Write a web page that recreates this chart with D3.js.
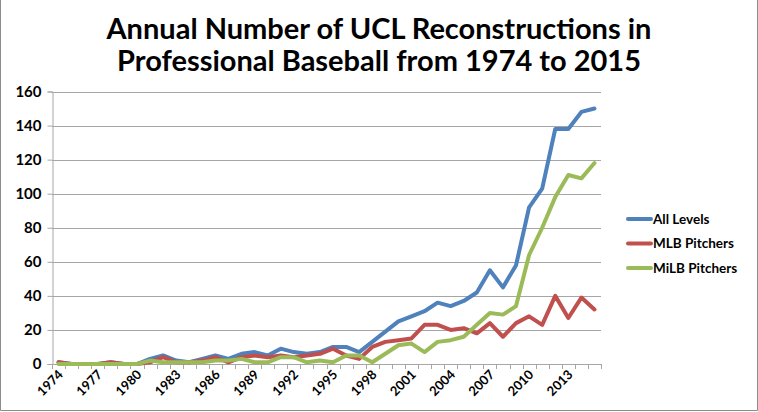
<!DOCTYPE html>
<html>
<head>
<meta charset="utf-8">
<script src="https://cdn.jsdelivr.net/npm/d3@7"></script>
<style>
  html, body { margin: 0; padding: 0; background: #fff; }
  svg { display: block; }
  text { font-family: Lato, "Open Sans", sans-serif; font-weight: bold; fill: #000; }
</style>
</head>
<body>
<svg id="chart" width="758" height="412"></svg>
<script>
const years = d3.range(1974, 2016);
const allLevels = [1,0,0,0,1,0,0,3,5,2,1,3,5,3,6,7,5,9,7,6,7,10,10,7,13,19,25,28,31,36,34,37,42,55,45,58,92,103,138,138,148,150];
const mlbPitchers = [1,0,0,0,1,0,0,1,4,1,1,2,4,1,4,5,4,5,4,5,6,9,5,3,10,13,14,15,23,23,20,21,18,24,16,24,28,23,40,27,39,32];
const milbPitchers = [0,0,0,0,0,0,0,2,1,1,1,1,2,2,3,1,1,4,4,1,2,1,5,5,1,6,11,12,7,13,14,16,23,30,29,34,64,80,98,111,109,118];
const seriesNames = ["All Levels", "MLB Pitchers", "MiLB Pitchers"];
const seriesColors = ["#4F81BD", "#C0504D", "#9BBB59"];
const yTicks = [0, 20, 40, 60, 80, 100, 120, 140, 160];
const xLabelYears = years.filter((yr, i) => i % 3 === 0);
const titleLines = ["Annual Number of UCL Reconstructions in", "Professional Baseball from 1974 to 2015"];

(function () {
  const svg = d3.select("#chart");
  const W = 758, H = 412;
  const pLeft = 52, pRight = 601, pTop = 91.5, pBottom = 364;

  // frame
  svg.append("path")
    .attr("d", `M0.5,-2 V${H - 1.5} H${W - 0.5} V-2`)
    .attr("fill", "none").attr("stroke", "#8c8c8c").attr("stroke-width", 1);

  const x = d3.scaleBand().domain(years).range([pLeft, pRight]).padding(0);
  const y = d3.scaleLinear().domain([0, 160]).range([pBottom, pTop]);
  const cx = d => x(d) + x.bandwidth() / 2;

  // gridlines
  svg.append("g").selectAll("line").data(yTicks.filter(v => v > 0)).join("line")
    .attr("x1", pLeft).attr("x2", pRight)
    .attr("y1", d => Math.round(y(d)) + 0.5).attr("y2", d => Math.round(y(d)) + 0.5)
    .attr("stroke", "#a6a6a6").attr("stroke-width", 1);

  // y axis
  const yAxis = svg.append("g").attr("transform", `translate(${pLeft + 0.5},0)`)
    .call(d3.axisLeft(y).tickValues(yTicks).tickSize(5).tickPadding(6).tickFormat(d3.format("d")));
  yAxis.select(".domain").attr("stroke", "#a6a6a6");
  yAxis.selectAll(".tick line").attr("stroke", "#a6a6a6");
  yAxis.selectAll(".tick text").style("font-size", "15px").style("font-family", "Lato, sans-serif").style("font-weight", "bold").attr("fill", "#000");

  // x axis line + ticks between categories
  svg.append("line").attr("x1", pLeft).attr("x2", pRight)
    .attr("y1", pBottom + 0.5).attr("y2", pBottom + 0.5).attr("stroke", "#a6a6a6");
  const boundaries = years.map(d => x(d)).concat([pRight]);
  svg.append("g").selectAll("line").data(boundaries).join("line")
    .attr("x1", d => Math.round(d) + 0.5).attr("x2", d => Math.round(d) + 0.5)
    .attr("y1", pBottom).attr("y2", pBottom + 5)
    .attr("stroke", "#a6a6a6");

  // x labels
  svg.append("g").selectAll("text").data(xLabelYears).join("text")
    .attr("transform", d => `translate(${cx(d) + 3},${pBottom + 9}) rotate(-45)`)
    .attr("text-anchor", "end")
    .attr("dominant-baseline", "middle")
    .style("font-size", "13px")
    .text(d => d);

  // lines
  const series = [allLevels, mlbPitchers, milbPitchers];
  const line = d3.line().x((d, i) => cx(years[i])).y(d => y(d));
  series.forEach((s, k) => {
    svg.append("path").datum(s)
      .attr("d", line)
      .attr("fill", "none")
      .attr("stroke", seriesColors[k])
      .attr("stroke-width", 4)
      .attr("stroke-linejoin", "round")
      .attr("stroke-linecap", "round");
  });

  // legend
  const legendY = [219, 243.5, 268];
  const lg = svg.append("g");
  seriesNames.forEach((n, k) => {
    lg.append("line").attr("x1", 628).attr("x2", 651)
      .attr("y1", legendY[k]).attr("y2", legendY[k])
      .attr("stroke", seriesColors[k]).attr("stroke-width", 4).attr("stroke-linecap", "round");
    lg.append("text").attr("x", 653).attr("y", legendY[k]).attr("dy", "0.36em")
      .style("font-size", "13.5px").text(n);
  });

  // title
  const titleBase = [39, 71];
  const targetW = 545;
  const t0 = svg.append("text").attr("x", 379).attr("y", titleBase[0])
    .attr("text-anchor", "middle").style("font-size", "27px").text(titleLines[0]);
  const fs = 27 * targetW / t0.node().getComputedTextLength();
  t0.style("font-size", fs + "px");
  svg.append("text").attr("x", 379).attr("y", titleBase[1])
    .attr("text-anchor", "middle").style("font-size", fs + "px").text(titleLines[1]);
})();
</script>
</body>
</html>
